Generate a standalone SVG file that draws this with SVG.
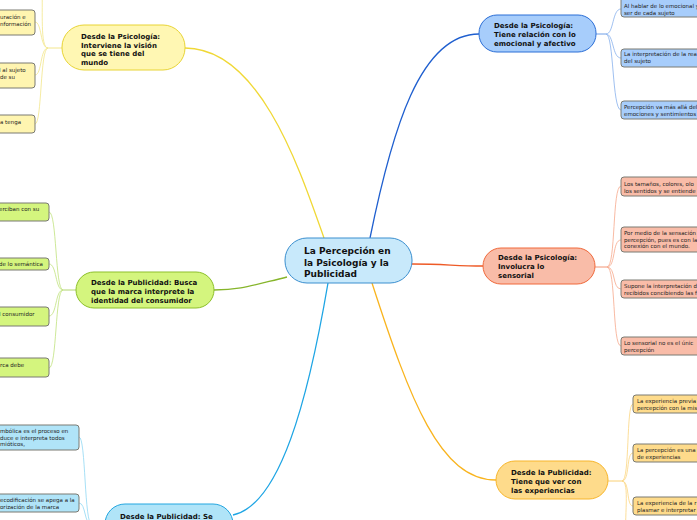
<svg xmlns="http://www.w3.org/2000/svg" width="697" height="520" viewBox="0 0 697 520">
<style>
.main{font-family:"DejaVu Sans",Verdana,sans-serif;font-weight:bold;font-size:7px;fill:#111}
.center{font-family:"DejaVu Sans",Verdana,sans-serif;font-weight:bold;font-size:9px;fill:#111}
.leaf{font-family:"DejaVu Sans",Verdana,sans-serif;font-size:5.5px;fill:#222}
.lr{stroke:#7a7a72;stroke-width:1}
path{fill:none}
</style>
<rect width="697" height="520" fill="#ffffff"/>
<g id="connectors" stroke-width="1.3">
<path d="M185,48 C260,48 300,170 324,238" stroke="#f0d836"/>
<path d="M370,238 C392,130 420,34 479,34" stroke="#1f5fcf"/>
<path d="M412,264 C445,264 455,266 483,266" stroke="#ee5a26"/>
<path d="M287,277 C250,286 240,290 214,290" stroke="#86b52a"/>
<path d="M328,283 C308,400 280,505 233,515" stroke="#1ea5e4"/>
<path d="M372,283 C410,400 440,480 496,480" stroke="#f9b41e"/>
<g stroke-width="0.8">
<path d="M62,48 L48,48" stroke="#f0e070"/>
<path d="M48,48 C40,48 42,22 35,22" stroke="#f3e68a"/>
<path d="M48,48 C40,48 42,75 35,75" stroke="#f3e68a"/>
<path d="M48,48 C40,48 42,124 35,124" stroke="#f3e68a"/>
<path d="M48,48 C40,48 43,10 42,-10" stroke="#f3e68a"/>
<path d="M76,290 L63,290" stroke="#9cc94a"/>
<path d="M63,290 C55,290 57,212 49,212" stroke="#c0e27e"/>
<path d="M63,290 C55,290 57,264 49,264" stroke="#c0e27e"/>
<path d="M63,290 C55,290 57,316 49,316" stroke="#c0e27e"/>
<path d="M63,290 C55,290 57,368 49,368" stroke="#c0e27e"/>
<path d="M105,525 L92,525" stroke="#7cd0f2"/>
<path d="M92,525 C84,525 86,437 79,437" stroke="#90d8f4"/>
<path d="M92,525 C84,525 86,503 79,503" stroke="#90d8f4"/>
<path d="M596,34 L606,34" stroke="#4a86e0"/>
<path d="M606,34 C614,34 612,9 621,9" stroke="#86b0ec"/>
<path d="M606,34 C614,34 612,58 621,58" stroke="#86b0ec"/>
<path d="M606,34 C614,34 612,110 621,110" stroke="#86b0ec"/>
<path d="M595,267 L607,267" stroke="#f07a50"/>
<path d="M607,267 C616,267 612,186 621,186" stroke="#f6a88c"/>
<path d="M607,267 C616,267 612,240 621,240" stroke="#f6a88c"/>
<path d="M607,267 C616,267 612,289 621,289" stroke="#f6a88c"/>
<path d="M607,267 C616,267 612,346 621,346" stroke="#f6a88c"/>
<path d="M608,481 L622,481" stroke="#f9c450"/>
<path d="M622,481 C630,481 626,404 633,404" stroke="#fbd680"/>
<path d="M622,481 C630,481 626,453 633,453" stroke="#fbd680"/>
<path d="M622,481 C630,481 626,506 633,506" stroke="#fbd680"/>
<path d="M622,481 C630,481 624,520 626,540" stroke="#fbd680"/>
</g>
</g>
<g id="center">
<rect x="285" y="238" width="127" height="45" rx="22" fill="#c8e9fb" stroke="#3b8fcf" stroke-width="1"/>
<text class="center" x="304" y="254">La Percepción en</text>
<text class="center" x="304" y="266">la Psicología y la</text>
<text class="center" x="304" y="277">Publicidad</text>
</g>
<g id="n-psico-vision">
<rect x="62" y="25" width="123" height="45" rx="22" fill="#fff7b3" stroke="#e8d435"/>
<text class="main" x="81" y="38.5">Desde la Psicología:</text>
<text class="main" x="81" y="47.5">Interviene la visión</text>
<text class="main" x="81" y="56">que se tiene del</text>
<text class="main" x="81" y="64.5">mundo</text>
</g>
<g id="leaf-y1"><rect class="lr" x="-20" y="10" width="55" height="25" rx="3" fill="#fff5b0"/><text class="leaf" x="0" y="19">uración e</text><text class="leaf" x="0" y="25.5">nformación</text></g>
<g id="leaf-y2"><rect class="lr" x="-20" y="63" width="55" height="25" rx="3" fill="#fff5b0"/><text class="leaf" x="-1" y="72">l al sujeto</text><text class="leaf" x="0" y="78.5">de su</text></g>
<g id="leaf-y3"><rect class="lr" x="-20" y="115" width="55" height="18" rx="3" fill="#fff5b0"/><text class="leaf" x="0" y="124">a tenga</text></g>
<g id="n-publi-identidad">
<rect x="76" y="272" width="138" height="36" rx="18" fill="#d4f57e" stroke="#8dc02b"/>
<text class="main" x="91" y="285">Desde la Publicidad: Busca</text>
<text class="main" x="91" y="294">que la marca interprete la</text>
<text class="main" x="91" y="302.5">identidad del consumidor</text>
</g>
<g id="leaf-g1"><rect class="lr" x="-20" y="203" width="69" height="18" rx="3" fill="#d4f57e"/><text class="leaf" x="-1" y="211">erciban con su</text></g>
<g id="leaf-g2"><rect class="lr" x="-20" y="258" width="69" height="12" rx="3" fill="#d4f57e"/><text class="leaf" x="-1" y="266">de lo semántica</text></g>
<g id="leaf-g3"><rect class="lr" x="-20" y="307" width="69" height="19" rx="3" fill="#d4f57e"/><text class="leaf" x="-1" y="316">l consumidor</text></g>
<g id="leaf-g4"><rect class="lr" x="-20" y="358" width="69" height="19" rx="3" fill="#d4f57e"/><text class="leaf" x="0" y="367">rca debe</text></g>
<g id="n-publi-se">
<rect x="105" y="504" width="128" height="40" rx="20" fill="#b0e4f8" stroke="#23a6e0"/>
<text class="main" x="120" y="519">Desde la Publicidad: Se</text>
</g>
<g id="leaf-lb1"><rect class="lr" x="-20" y="425" width="99" height="25" rx="3" fill="#b0e4f8"/><text class="leaf" x="0" y="433">mbólica es el proceso en</text><text class="leaf" x="0" y="439.5">duce e interpreta todos</text><text class="leaf" x="0" y="446">mióticos,</text></g>
<g id="leaf-lb2"><rect class="lr" x="-20" y="494" width="99" height="18" rx="3" fill="#b0e4f8"/><text class="leaf" x="0" y="502">ecodificación se apega a la</text><text class="leaf" x="0" y="508.5">orización de la marca</text></g>
<g id="n-psico-emocional">
<rect x="479" y="15" width="117" height="37" rx="18" fill="#a7cdfb" stroke="#2b6ed6"/>
<text class="main" x="494" y="28">Desde la Psicología:</text>
<text class="main" x="494" y="37">Tiene relación con lo</text>
<text class="main" x="494" y="46">emocional y afectivo</text>
</g>
<g id="leaf-b1"><rect class="lr" x="621" y="-5" width="100" height="22" rx="3" fill="#a7cdfb"/><text class="leaf" x="624" y="8">Al hablar de lo emocional y</text><text class="leaf" x="624" y="14.5">ser de cada sujeto</text></g>
<g id="leaf-b2"><rect class="lr" x="621" y="49" width="100" height="18" rx="3" fill="#a7cdfb"/><text class="leaf" x="624" y="56">La interpretación de la rea</text><text class="leaf" x="624" y="62.5">del sujeto</text></g>
<g id="leaf-b3"><rect class="lr" x="621" y="101" width="100" height="18" rx="3" fill="#a7cdfb"/><text class="leaf" x="624" y="109">Percepción va más allá del</text><text class="leaf" x="624" y="115.5">emociones y sentimientos</text></g>
<g id="n-psico-sensorial">
<rect x="483" y="248" width="112" height="36" rx="18" fill="#f9bca8" stroke="#f0693b"/>
<text class="main" x="498" y="260">Desde la Psicología:</text>
<text class="main" x="498" y="269">Involucra lo</text>
<text class="main" x="498" y="277.5">sensorial</text>
</g>
<g id="leaf-o1"><rect class="lr" x="621" y="177" width="100" height="19" rx="3" fill="#f9bca8"/><text class="leaf" x="624" y="186">Los tamaños, colores, olo</text><text class="leaf" x="624" y="192.5">los sentidos y se entiende</text></g>
<g id="leaf-o2"><rect class="lr" x="621" y="227" width="100" height="25" rx="3" fill="#f9bca8"/><text class="leaf" x="624" y="235">Por medio de la sensación</text><text class="leaf" x="624" y="241.5">percepción, pues es con la</text><text class="leaf" x="624" y="248">conexión con el mundo.</text></g>
<g id="leaf-o3"><rect class="lr" x="621" y="280" width="100" height="18" rx="3" fill="#f9bca8"/><text class="leaf" x="624" y="288">Supone la interpretación d</text><text class="leaf" x="624" y="294.5">recibidos concibiendo las f</text></g>
<g id="leaf-o4"><rect class="lr" x="621" y="337" width="100" height="18" rx="3" fill="#f9bca8"/><text class="leaf" x="624" y="345">Lo sensorial no es el únic</text><text class="leaf" x="624" y="351.5">percepción</text></g>
<g id="n-publi-experiencias">
<rect x="496" y="461" width="112" height="38" rx="19" fill="#fedb8b" stroke="#f7b52a"/>
<text class="main" x="511" y="475">Desde la Publicidad:</text>
<text class="main" x="511" y="484">Tiene que ver con</text>
<text class="main" x="511" y="492.5">las experiencias</text>
</g>
<g id="leaf-yo1"><rect class="lr" x="633" y="395" width="90" height="18" rx="3" fill="#fedb8b"/><text class="leaf" x="637" y="403">La experiencia previa</text><text class="leaf" x="637" y="409.5">percepción con la mis</text></g>
<g id="leaf-yo2"><rect class="lr" x="633" y="444" width="90" height="18" rx="3" fill="#fedb8b"/><text class="leaf" x="637" y="452">La percepción es una</text><text class="leaf" x="637" y="458.5">de experiencias</text></g>
<g id="leaf-yo3"><rect class="lr" x="633" y="497" width="90" height="18" rx="3" fill="#fedb8b"/><text class="leaf" x="637" y="505">La experiencia de la r</text><text class="leaf" x="637" y="511.5">plasmar e interpretar</text></g>
</svg>
